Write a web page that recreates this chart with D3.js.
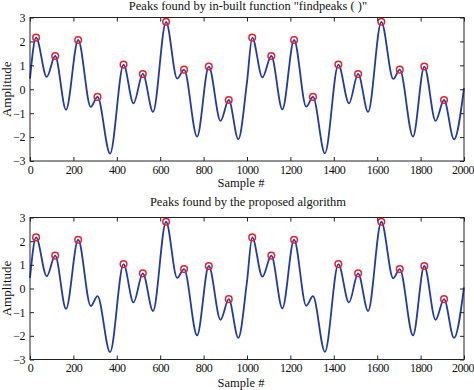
<!DOCTYPE html>
<html><head><meta charset="utf-8">
<script src="https://cdn.jsdelivr.net/npm/d3@7"></script>
<style>body{margin:0;background:#fff}svg{display:block}</style>
</head><body><svg id="c" width="474" height="390"></svg>
<script>
// ---- data ----
const sampleIdx = [0, 28, 77, 116, 166, 222, 280, 311, 369, 431, 477, 520, 567, 627, 678, 710, 770, 824, 878, 916, 960,
  1000, 1024, 1071, 1112, 1163, 1217, 1273, 1304, 1359, 1421, 1470, 1512, 1558, 1619, 1674, 1704, 1765, 1817, 1869, 1908, 1954, 2000];
const amplitude = [0.45, 2.16, 0.52, 1.39, -0.86, 2.06, -0.74, -0.32, -2.69, 1.03, -0.59, 0.64, -0.95, 2.82, 0.45, 0.82, -1.98, 0.95, -1.32, -0.45, -2.09,
  0.3, 2.16, 0.5, 1.39, -0.84, 2.06, -0.73, -0.32, -2.68, 1.03, -0.59, 0.64, -0.95, 2.82, 0.43, 0.82, -1.98, 0.95, -1.32, -0.45, -2.09, 0.05];
const peaksBuiltin = [28, 116, 222, 311, 431, 520, 627, 710, 824, 916, 1024, 1112, 1217, 1304, 1421, 1512, 1619, 1704, 1817, 1908];
const peaksProposed = [28, 116, 222, 431, 520, 627, 710, 824, 916, 1024, 1112, 1217, 1421, 1512, 1619, 1704, 1817, 1908];
const xTicks = [0, 200, 400, 600, 800, 1000, 1200, 1400, 1600, 1800, 2000];
const yTicks = [-3, -2, -1, 0, 1, 2, 3];
const titles = ['Peaks found by in-built function "findpeaks ( )"', 'Peaks found by the proposed algorithm'];
const xLabel = 'Sample #';
const yLabel = 'Amplitude';

// ---- drawing ----
const svg = d3.select('#c');
const FONT = '"Liberation Serif", "Times New Roman", serif';
const left = 30, right = 464;
const panels = [
  {top: 17.5, bottom: 161, titleY: 9.5, xlabY: 187, peaks: peaksBuiltin, title: titles[0]},
  {top: 217.5, bottom: 359.5, titleY: 206, xlabY: 386.5, peaks: peaksProposed, title: titles[1]}
];
const pts = sampleIdx.map((s, i) => [s, amplitude[i]]);
const valAt = new Map(pts);

panels.forEach(p => {
  const x = d3.scaleLinear().domain([0, 2000]).range([left, right]);
  const y = d3.scaleLinear().domain([-3, 3]).range([p.bottom, p.top]);
  const g = svg.append('g');

  const line = d3.line().x(d => x(d[0])).y(d => y(d[1])).curve(d3.curveMonotoneX);
  g.append('path').datum(pts).attr('d', line)
    .attr('fill', 'none').attr('stroke', '#2339a3').attr('stroke-width', 1.8);

  g.selectAll('circle.pk').data(p.peaks).enter().append('circle')
    .attr('class', 'pk')
    .attr('cx', d => x(d)).attr('cy', d => y(valAt.get(d)))
    .attr('r', 3.3).attr('fill', 'none').attr('stroke', '#e8202e').attr('stroke-width', 1.5);

  const styleAxis = sel => {
    sel.select('.domain').remove();
    sel.selectAll('line').attr('stroke', '#222');
    sel.selectAll('text').attr('font-family', FONT).attr('font-size', 12)
      .style('letter-spacing', '-0.5px').attr('fill', '#111');
  };
  const xb = g.append('g').attr('transform', `translate(0,${p.bottom})`)
    .call(d3.axisBottom(x).tickValues(xTicks).tickSize(-4).tickPadding(4).tickFormat(d3.format('d')))
    .call(styleAxis);
  xb.selectAll('.tick').filter(d => d === 2000).select('text').attr('dx', -1.5);
  g.append('g').attr('transform', `translate(0,${p.top})`)
    .call(d3.axisTop(x).tickValues(xTicks).tickSize(-4).tickFormat(''))
    .call(styleAxis);
  g.append('g').attr('transform', `translate(${left},0)`)
    .call(d3.axisLeft(y).tickValues(yTicks).tickSize(-4).tickPadding(5).tickFormat(d3.format('d')))
    .call(styleAxis);
  g.append('g').attr('transform', `translate(${right},0)`)
    .call(d3.axisRight(y).tickValues(yTicks).tickSize(-4).tickFormat(''))
    .call(styleAxis);

  g.append('rect').attr('x', left).attr('y', p.top).attr('width', right - left).attr('height', p.bottom - p.top)
    .attr('fill', 'none').attr('stroke', '#222').attr('stroke-width', 1);

  g.append('text').attr('x', (left + right) / 2 + 1).attr('y', p.titleY).attr('text-anchor', 'middle')
    .attr('font-family', FONT).attr('font-size', 12.5).attr('fill', '#111').text(p.title);
  g.append('text').attr('x', (left + right) / 2 - 6).attr('y', p.xlabY).attr('text-anchor', 'middle')
    .attr('font-family', FONT).attr('font-size', 12.5).attr('fill', '#111').text(xLabel);
  g.append('text').attr('transform', `translate(11,${(p.top + p.bottom) / 2}) rotate(-90)`)
    .attr('text-anchor', 'middle').attr('font-family', FONT).attr('font-size', 13).attr('fill', '#111').text(yLabel);
});
</script>
</body></html>
